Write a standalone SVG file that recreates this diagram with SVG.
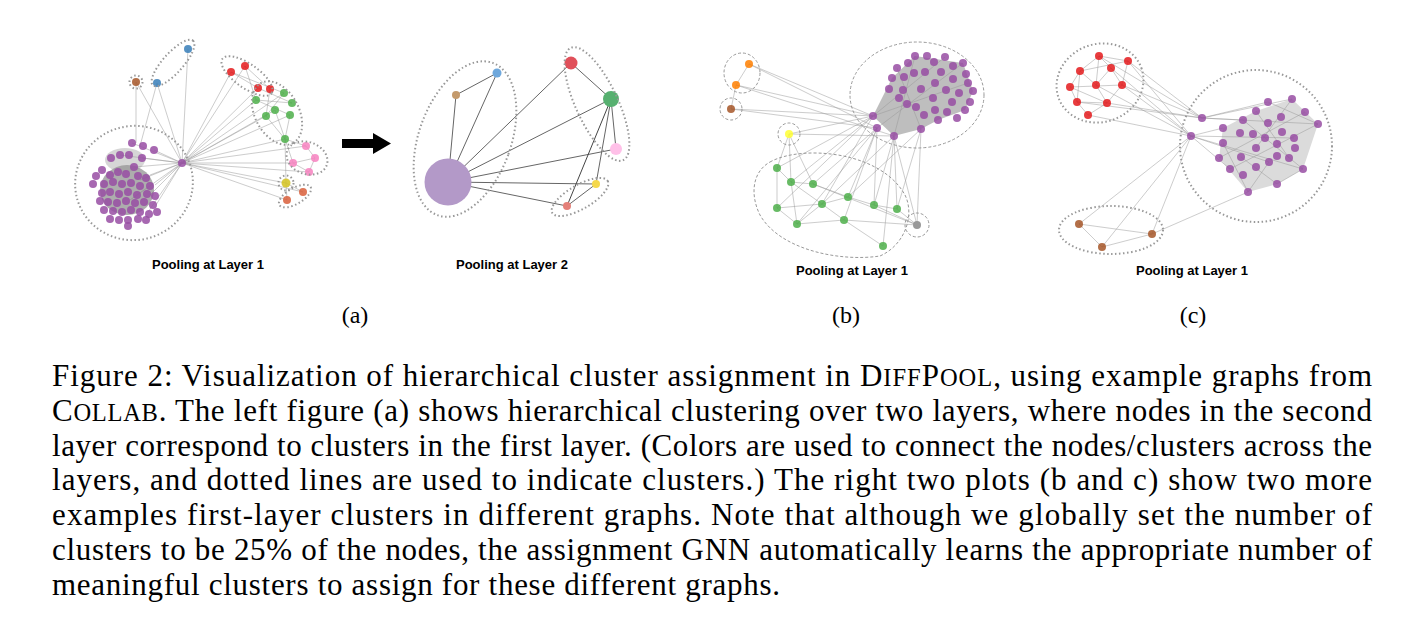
<svg xmlns="http://www.w3.org/2000/svg" width="1426" height="621" viewBox="0 0 1426 621">
<style>
.e line{stroke:#999;stroke-width:0.7;opacity:.7}
.d line{stroke:#666;stroke-width:1}
.cl{fill:none;stroke:#999;stroke-width:2;stroke-dasharray:1.5 2.5}
.cl2{fill:none;stroke:#999;stroke-width:1;stroke-dasharray:3 2}
.p{fill:#984ea3;opacity:.85}.r{fill:#e41a1c;opacity:.85}.g{fill:#4daf4a;opacity:.85}.b{fill:#377eb8;opacity:.85}
.br{fill:#a65628;opacity:.85}.pk{fill:#f781bf;opacity:.85}.y{fill:#d4c21d;opacity:.85}.o{fill:#ff7f00;opacity:.85}
.lab{font-family:"Liberation Sans",Arial,sans-serif;font-weight:bold;font-size:13px;text-anchor:middle}
.sub{font-family:"Liberation Serif","Times New Roman",serif;font-size:24px;text-anchor:middle}
.cap{font-family:"Liberation Serif","Times New Roman",serif;font-size:31px}
</style>
<!-- Panel a, layer 1 -->
<g id="panel-a1">
<g class="e">
<line x1="182" y1="163" x2="136" y2="82"/><line x1="182" y1="163" x2="157" y2="83"/><line x1="182" y1="163" x2="188" y2="49"/>
<line x1="182" y1="163" x2="231" y2="72"/><line x1="182" y1="163" x2="245" y2="66"/><line x1="182" y1="163" x2="256" y2="100"/>
<line x1="182" y1="163" x2="266" y2="116"/><line x1="182" y1="163" x2="275" y2="110"/><line x1="182" y1="163" x2="285" y2="139"/>
<line x1="182" y1="163" x2="306" y2="146"/><line x1="182" y1="163" x2="293" y2="163"/><line x1="182" y1="163" x2="309" y2="172"/>
<line x1="182" y1="163" x2="286" y2="183"/><line x1="182" y1="163" x2="303" y2="192"/><line x1="182" y1="163" x2="287" y2="200"/>
<line x1="182" y1="163" x2="258" y2="88"/><line x1="182" y1="163" x2="290" y2="115"/><line x1="182" y1="163" x2="284" y2="93"/>
<line x1="136" y1="82" x2="136" y2="143"/><line x1="157" y1="83" x2="140" y2="146"/>
<line x1="231" y1="72" x2="258" y2="88"/><line x1="245" y1="66" x2="270" y2="89"/><line x1="231" y1="72" x2="284" y2="93"/><line x1="245" y1="66" x2="256" y2="100"/>
<line x1="258" y1="88" x2="292" y2="103"/><line x1="270" y1="89" x2="266" y2="116"/><line x1="256" y1="100" x2="290" y2="115"/><line x1="284" y1="93" x2="266" y2="116"/>
<line x1="275" y1="110" x2="285" y2="139"/><line x1="266" y1="116" x2="285" y2="139"/><line x1="290" y1="115" x2="285" y2="139"/><line x1="256" y1="100" x2="292" y2="103"/>
<line x1="285" y1="139" x2="306" y2="146"/><line x1="285" y1="139" x2="293" y2="163"/><line x1="306" y1="146" x2="315" y2="158"/><line x1="293" y1="163" x2="309" y2="172"/><line x1="315" y1="158" x2="309" y2="172"/><line x1="293" y1="163" x2="315" y2="158"/>
<line x1="285" y1="139" x2="286" y2="183"/><line x1="286" y1="183" x2="287" y2="200"/><line x1="286" y1="183" x2="303" y2="192"/>
</g>
<g class="e">
<line x1="182" y1="163" x2="132" y2="143"/><line x1="182" y1="163" x2="154" y2="150"/><line x1="182" y1="163" x2="142" y2="158"/><line x1="182" y1="163" x2="134" y2="167"/>
<line x1="182" y1="163" x2="150" y2="175"/><line x1="182" y1="163" x2="155" y2="185"/><line x1="182" y1="163" x2="150" y2="195"/><line x1="182" y1="163" x2="156" y2="205"/>
<line x1="182" y1="163" x2="148" y2="212"/><line x1="182" y1="163" x2="140" y2="180"/><line x1="182" y1="163" x2="120" y2="155"/><line x1="182" y1="163" x2="130" y2="200"/>
</g>
<ellipse cx="127" cy="190" rx="27" ry="25" fill="#777" opacity=".6"/>
<ellipse cx="125" cy="160" rx="20" ry="12" fill="#999" opacity=".4"/>
<g>
<circle class="p" cx="132" cy="143" r="4"/><circle class="p" cx="143" cy="146" r="4"/><circle class="p" cx="154" cy="150" r="4"/><circle class="p" cx="111" cy="158" r="4"/>
<circle class="p" cx="120" cy="155" r="4"/><circle class="p" cx="129" cy="155" r="4"/><circle class="p" cx="142" cy="158" r="4"/><circle class="p" cx="102" cy="170" r="4"/>
<circle class="p" cx="134" cy="167" r="4"/><circle class="p" cx="96" cy="176" r="4"/><circle class="p" cx="93" cy="184" r="4"/>
<circle class="p" cx="110" cy="175" r="4"/><circle class="p" cx="118" cy="172" r="4"/><circle class="p" cx="126" cy="174" r="4"/><circle class="p" cx="138" cy="176" r="4"/><circle class="p" cx="146" cy="178" r="4"/>
<circle class="p" cx="104" cy="184" r="4"/><circle class="p" cx="113" cy="182" r="4"/><circle class="p" cx="122" cy="184" r="4"/><circle class="p" cx="131" cy="183" r="4"/><circle class="p" cx="140" cy="186" r="4"/><circle class="p" cx="150" cy="186" r="4"/>
<circle class="p" cx="102" cy="193" r="4"/><circle class="p" cx="110" cy="192" r="4"/><circle class="p" cx="119" cy="194" r="4"/><circle class="p" cx="128" cy="192" r="4"/><circle class="p" cx="137" cy="195" r="4"/><circle class="p" cx="147" cy="194" r="4"/><circle class="p" cx="155" cy="196" r="4"/>
<circle class="p" cx="100" cy="201" r="4"/><circle class="p" cx="108" cy="202" r="4"/><circle class="p" cx="117" cy="203" r="4"/><circle class="p" cx="126" cy="201" r="4"/><circle class="p" cx="135" cy="203" r="4"/><circle class="p" cx="144" cy="202" r="4"/><circle class="p" cx="153" cy="205" r="4"/><circle class="p" cx="157" cy="212" r="4"/>
<circle class="p" cx="104" cy="210" r="4"/><circle class="p" cx="113" cy="211" r="4"/><circle class="p" cx="122" cy="212" r="4"/><circle class="p" cx="131" cy="210" r="4"/><circle class="p" cx="140" cy="212" r="4"/><circle class="p" cx="149" cy="214" r="4"/>
<circle class="p" cx="110" cy="219" r="4"/><circle class="p" cx="119" cy="220" r="4"/><circle class="p" cx="128" cy="220" r="4"/><circle class="p" cx="138" cy="219" r="4"/><circle class="p" cx="146" cy="220" r="4"/><circle class="p" cx="128" cy="226" r="4"/>
<circle class="p" cx="182" cy="163" r="4"/>
<circle class="br" cx="136" cy="82" r="4"/><circle class="b" cx="157" cy="83" r="4"/><circle class="b" cx="188" cy="49" r="4"/>
<circle class="r" cx="231" cy="72" r="4"/><circle class="r" cx="245" cy="66" r="4"/><circle class="r" cx="258" cy="88" r="4"/><circle class="r" cx="270" cy="89" r="4"/>
<circle class="g" cx="284" cy="93" r="4"/><circle class="g" cx="292" cy="103" r="4"/><circle class="g" cx="256" cy="100" r="4"/><circle class="g" cx="275" cy="110" r="4"/><circle class="g" cx="266" cy="116" r="4"/><circle class="g" cx="290" cy="115" r="4"/><circle class="g" cx="285" cy="139" r="4"/>
<circle class="pk" cx="306" cy="146" r="4"/><circle class="pk" cx="315" cy="158" r="4"/><circle class="pk" cx="293" cy="163" r="4"/><circle class="pk" cx="309" cy="172" r="4"/>
<circle class="y" cx="286" cy="183" r="4.5"/><circle fill="#d95f3b" opacity=".85" cx="303" cy="192" r="4"/><circle fill="#d95f3b" opacity=".85" cx="287" cy="200" r="4"/>
</g>
<ellipse class="cl" cx="134" cy="183" rx="59" ry="57" transform="rotate(-15 134 183)"/>
<ellipse class="cl" cx="173" cy="63" rx="30" ry="10" transform="rotate(-48 173 63)"/>
<circle class="cl" cx="136" cy="82" r="6.5"/>
<ellipse class="cl" cx="247" cy="76" rx="30" ry="12" transform="rotate(35 247 76)"/>
<ellipse class="cl" cx="277" cy="113" rx="34" ry="22" transform="rotate(62 277 113)"/>
<ellipse class="cl" cx="307" cy="158" rx="21" ry="16" transform="rotate(20 307 158)"/>
<circle class="cl" cx="286" cy="183" r="7.5"/>
<ellipse class="cl" cx="295" cy="196" rx="18" ry="8" transform="rotate(-30 295 196)"/>
</g>
<g id="arrow"><rect x="342" y="139" width="33" height="9" fill="#000"/><polygon points="373,133 391,143.5 373,154" fill="#000"/></g>
<!-- Panel a, layer 2 -->
<g id="panel-a2">
<g class="d">
<line x1="448" y1="182" x2="456" y2="95"/><line x1="448" y1="182" x2="497" y2="73"/><line x1="456" y1="95" x2="497" y2="73"/>
<line x1="448" y1="182" x2="571" y2="63"/><line x1="448" y1="182" x2="611" y2="99"/><line x1="448" y1="182" x2="616" y2="149"/>
<line x1="448" y1="182" x2="596" y2="184"/><line x1="448" y1="182" x2="567" y2="206"/><line x1="571" y1="63" x2="611" y2="99"/>
<line x1="611" y1="99" x2="616" y2="149"/><line x1="611" y1="99" x2="596" y2="184"/><line x1="611" y1="99" x2="567" y2="206" style="stroke:#444"/><line x1="567" y1="206" x2="596" y2="184"/>
</g>
<circle cx="448" cy="182" r="23.5" fill="#b399c8"/>
<circle cx="456" cy="95" r="4" fill="#c49a6c"/><circle cx="497" cy="73" r="4.5" fill="#6fa8dc"/>
<circle cx="571" cy="63" r="6.5" fill="#e0505a"/><circle cx="611" cy="99" r="8" fill="#57b070"/>
<circle cx="616" cy="149" r="6" fill="#ffc0e8"/><circle cx="596" cy="184" r="4" fill="#f5d84c"/><circle cx="567" cy="206" r="4" fill="#e48079"/>
<ellipse class="cl" cx="465" cy="139" rx="46" ry="81" transform="rotate(20 465 139)"/>
<ellipse class="cl" cx="597" cy="104" rx="21" ry="62" transform="rotate(-25 597 104)"/>
<ellipse class="cl" cx="580" cy="197" rx="32" ry="12" transform="rotate(-30 580 197)"/>
</g>
<!-- Panel b -->
<g id="panel-b">
<g class="e">
<line x1="749" y1="64" x2="736" y2="85"/><line x1="736" y1="85" x2="731" y2="109"/>
<line x1="749" y1="64" x2="873" y2="116"/><line x1="749" y1="64" x2="877" y2="128"/><line x1="736" y1="85" x2="873" y2="116"/><line x1="736" y1="85" x2="894" y2="136"/>
<line x1="731" y1="109" x2="873" y2="116"/><line x1="731" y1="109" x2="877" y2="128"/><line x1="789" y1="134" x2="873" y2="116"/><line x1="789" y1="134" x2="894" y2="136"/>
<line x1="789" y1="134" x2="777" y2="168"/><line x1="789" y1="134" x2="813" y2="184"/><line x1="789" y1="134" x2="791" y2="182"/>
<line x1="873" y1="116" x2="777" y2="168"/><line x1="873" y1="116" x2="791" y2="182"/><line x1="873" y1="116" x2="822" y2="204"/><line x1="873" y1="116" x2="777" y2="208"/>
<line x1="877" y1="128" x2="813" y2="184"/><line x1="877" y1="128" x2="848" y2="197"/><line x1="877" y1="128" x2="844" y2="220"/><line x1="877" y1="128" x2="874" y2="205"/><line x1="877" y1="128" x2="797" y2="224"/>
<line x1="894" y1="136" x2="874" y2="205"/><line x1="894" y1="136" x2="897" y2="209"/><line x1="894" y1="136" x2="883" y2="246"/><line x1="894" y1="136" x2="917" y2="225"/><line x1="894" y1="136" x2="822" y2="204"/>
<line x1="921" y1="129" x2="917" y2="225"/><line x1="921" y1="129" x2="897" y2="209"/><line x1="921" y1="129" x2="848" y2="197"/>
<line x1="777" y1="168" x2="791" y2="182"/><line x1="791" y1="182" x2="813" y2="184"/><line x1="777" y1="168" x2="777" y2="208"/><line x1="777" y1="208" x2="797" y2="224"/><line x1="791" y1="182" x2="822" y2="204"/>
<line x1="813" y1="184" x2="848" y2="197"/><line x1="822" y1="204" x2="848" y2="197"/><line x1="822" y1="204" x2="844" y2="220"/><line x1="797" y1="224" x2="844" y2="220"/><line x1="777" y1="208" x2="822" y2="204"/>
<line x1="848" y1="197" x2="874" y2="205"/><line x1="874" y1="205" x2="897" y2="209"/><line x1="844" y1="220" x2="883" y2="246"/><line x1="874" y1="205" x2="917" y2="225"/><line x1="813" y1="184" x2="917" y2="225"/>
<line x1="897" y1="209" x2="917" y2="225"/><line x1="844" y1="220" x2="917" y2="225"/><line x1="797" y1="224" x2="822" y2="204"/><line x1="791" y1="182" x2="797" y2="224"/>
</g>
<polygon points="873,116 892,78 915,56 963,63 973,91 965,110 938,120 921,129 894,136" fill="#888" opacity=".55"/>
<g class="e">
<line x1="873" y1="116" x2="945" y2="57"/><line x1="873" y1="116" x2="968" y2="83"/><line x1="877" y1="128" x2="963" y2="63"/><line x1="894" y1="136" x2="915" y2="56"/><line x1="921" y1="129" x2="897" y2="68"/>
</g>
<g>
<circle class="p" cx="915" cy="56" r="4"/><circle class="p" cx="927" cy="56" r="4"/><circle class="p" cx="945" cy="57" r="4"/><circle class="p" cx="897" cy="68" r="4"/><circle class="p" cx="908" cy="63" r="4"/>
<circle class="p" cx="934" cy="62" r="4"/><circle class="p" cx="953" cy="66" r="4"/><circle class="p" cx="963" cy="63" r="4"/><circle class="p" cx="892" cy="78" r="4"/><circle class="p" cx="904" cy="77" r="4"/>
<circle class="p" cx="914" cy="73" r="4"/><circle class="p" cx="925" cy="72" r="4"/><circle class="p" cx="941" cy="72" r="4"/><circle class="p" cx="953" cy="79" r="4"/><circle class="p" cx="966" cy="74" r="4"/>
<circle class="p" cx="968" cy="83" r="4"/><circle class="p" cx="889" cy="89" r="4"/><circle class="p" cx="903" cy="90" r="4"/><circle class="p" cx="921" cy="89" r="4"/><circle class="p" cx="935" cy="83" r="4"/>
<circle class="p" cx="946" cy="90" r="4"/><circle class="p" cx="959" cy="93" r="4"/><circle class="p" cx="973" cy="91" r="4"/><circle class="p" cx="899" cy="98" r="4"/><circle class="p" cx="933" cy="98" r="4"/>
<circle class="p" cx="952" cy="102" r="4"/><circle class="p" cx="970" cy="102" r="4"/><circle class="p" cx="907" cy="104" r="4"/><circle class="p" cx="916" cy="107" r="4"/><circle class="p" cx="935" cy="110" r="4"/>
<circle class="p" cx="947" cy="112" r="4"/><circle class="p" cx="965" cy="110" r="4"/><circle class="p" cx="924" cy="115" r="4"/><circle class="p" cx="938" cy="120" r="4"/><circle class="p" cx="957" cy="118" r="4"/>
<circle class="p" cx="873" cy="116" r="4"/><circle class="p" cx="877" cy="128" r="4"/><circle class="p" cx="894" cy="136" r="4"/><circle class="p" cx="921" cy="129" r="4"/>
<circle class="o" cx="749" cy="64" r="4"/><circle class="o" cx="736" cy="85" r="4"/><circle class="br" cx="731" cy="109" r="4"/>
<circle fill="#ffff33" opacity=".85" cx="789" cy="134" r="4"/><circle fill="#999" cx="917" cy="225" r="4"/>
<circle class="g" cx="777" cy="168" r="4"/><circle class="g" cx="791" cy="182" r="4"/><circle class="g" cx="813" cy="184" r="4"/><circle class="g" cx="848" cy="197" r="4"/>
<circle class="g" cx="822" cy="204" r="4"/><circle class="g" cx="777" cy="208" r="4"/><circle class="g" cx="874" cy="205" r="4"/><circle class="g" cx="897" cy="209" r="4"/>
<circle class="g" cx="797" cy="224" r="4"/><circle class="g" cx="844" cy="220" r="4"/><circle class="g" cx="883" cy="246" r="4"/>
</g>
<ellipse class="cl2" cx="917" cy="95" rx="67" ry="53"/>
<ellipse class="cl2" cx="742" cy="73" rx="18" ry="20"/>
<circle class="cl2" cx="731" cy="109" r="11"/>
<circle class="cl2" cx="789" cy="134" r="11"/>
<circle class="cl2" cx="917" cy="225" r="12"/>
<path class="cl2" d="M 770 162 C 800 145, 880 150, 905 195 C 915 215, 905 245, 880 256 C 840 262, 780 250, 760 215 C 750 195, 752 172, 770 162 Z"/>
</g>
<!-- Panel c -->
<g id="panel-c">
<g class="e">
<line x1="1099" y1="56" x2="1128" y2="61"/><line x1="1099" y1="56" x2="1080" y2="71"/><line x1="1099" y1="56" x2="1111" y2="68"/><line x1="1080" y1="71" x2="1070" y2="87"/><line x1="1080" y1="71" x2="1096" y2="85"/>
<line x1="1111" y1="68" x2="1122" y2="85"/><line x1="1111" y1="68" x2="1096" y2="85"/><line x1="1070" y1="87" x2="1077" y2="102"/><line x1="1096" y1="85" x2="1107" y2="103"/><line x1="1122" y1="85" x2="1107" y2="103"/>
<line x1="1077" y1="102" x2="1088" y2="115"/><line x1="1107" y1="103" x2="1088" y2="115"/><line x1="1070" y1="87" x2="1122" y2="85"/><line x1="1080" y1="71" x2="1128" y2="61"/><line x1="1077" y1="102" x2="1107" y2="103"/>
<line x1="1099" y1="56" x2="1096" y2="85"/><line x1="1128" y1="61" x2="1122" y2="85"/><line x1="1070" y1="87" x2="1107" y2="103"/><line x1="1080" y1="71" x2="1077" y2="102"/>
<line x1="1128" y1="61" x2="1202" y2="118"/><line x1="1122" y1="85" x2="1202" y2="118"/><line x1="1107" y1="103" x2="1202" y2="118"/><line x1="1088" y1="115" x2="1191" y2="136"/><line x1="1111" y1="68" x2="1191" y2="136"/>
<line x1="1096" y1="85" x2="1191" y2="136"/><line x1="1128" y1="61" x2="1191" y2="136"/><line x1="1122" y1="85" x2="1191" y2="136"/><line x1="1099" y1="56" x2="1202" y2="118"/><line x1="1077" y1="102" x2="1202" y2="118"/>
<line x1="1191" y1="136" x2="1079" y2="224"/><line x1="1191" y1="136" x2="1102" y2="247"/><line x1="1191" y1="136" x2="1152" y2="234"/><line x1="1248" y1="192" x2="1152" y2="234"/>
<line x1="1079" y1="224" x2="1102" y2="247"/><line x1="1079" y1="224" x2="1152" y2="234"/><line x1="1102" y1="247" x2="1152" y2="234"/>
<line x1="1202" y1="118" x2="1268" y2="102"/><line x1="1202" y1="118" x2="1292" y2="99"/><line x1="1202" y1="118" x2="1318" y2="124"/><line x1="1191" y1="136" x2="1223" y2="128"/><line x1="1191" y1="136" x2="1269" y2="162"/>
<line x1="1191" y1="136" x2="1303" y2="169"/><line x1="1191" y1="136" x2="1230" y2="169"/><line x1="1202" y1="118" x2="1243" y2="120"/><line x1="1191" y1="136" x2="1294" y2="138"/>
<line x1="1248" y1="192" x2="1223" y2="143"/><line x1="1248" y1="192" x2="1269" y2="162"/><line x1="1277" y1="184" x2="1241" y2="157"/><line x1="1277" y1="184" x2="1303" y2="169"/><line x1="1292" y1="99" x2="1256" y2="148"/>
<line x1="1268" y1="102" x2="1318" y2="124"/><line x1="1305" y1="112" x2="1219" y2="158"/><line x1="1318" y1="124" x2="1230" y2="169"/><line x1="1243" y1="120" x2="1303" y2="169"/><line x1="1256" y1="111" x2="1289" y2="158"/>
</g>
<polygon points="1223,128 1256,111 1292,99 1318,124 1303,169 1277,184 1248,192 1219,158" fill="#999" opacity=".35"/>
<g>
<circle class="r" cx="1099" cy="56" r="4"/><circle class="r" cx="1128" cy="61" r="4"/><circle class="r" cx="1080" cy="71" r="4"/><circle class="r" cx="1111" cy="68" r="4"/><circle class="r" cx="1070" cy="87" r="4"/>
<circle class="r" cx="1096" cy="85" r="4"/><circle class="r" cx="1122" cy="85" r="4"/><circle class="r" cx="1077" cy="102" r="4"/><circle class="r" cx="1107" cy="103" r="4"/><circle class="r" cx="1088" cy="115" r="4"/>
<circle class="p" cx="1202" cy="118" r="4"/><circle class="p" cx="1191" cy="136" r="4"/>
<circle class="p" cx="1268" cy="102" r="4"/><circle class="p" cx="1292" cy="99" r="4"/><circle class="p" cx="1256" cy="111" r="4"/><circle class="p" cx="1243" cy="120" r="4"/><circle class="p" cx="1268" cy="123" r="4"/>
<circle class="p" cx="1281" cy="117" r="4"/><circle class="p" cx="1305" cy="112" r="4"/><circle class="p" cx="1318" cy="124" r="4"/><circle class="p" cx="1223" cy="128" r="4"/><circle class="p" cx="1240" cy="133" r="4"/>
<circle class="p" cx="1253" cy="134" r="4"/><circle class="p" cx="1282" cy="132" r="4"/><circle class="p" cx="1265" cy="138" r="4"/><circle class="p" cx="1294" cy="138" r="4"/><circle class="p" cx="1223" cy="143" r="4"/>
<circle class="p" cx="1256" cy="148" r="4"/><circle class="p" cx="1277" cy="144" r="4"/><circle class="p" cx="1295" cy="148" r="4"/><circle class="p" cx="1219" cy="158" r="4"/><circle class="p" cx="1241" cy="157" r="4"/>
<circle class="p" cx="1269" cy="162" r="4"/><circle class="p" cx="1277" cy="156" r="4"/><circle class="p" cx="1289" cy="158" r="4"/><circle class="p" cx="1230" cy="169" r="4"/><circle class="p" cx="1243" cy="175" r="4"/>
<circle class="p" cx="1256" cy="167" r="4"/><circle class="p" cx="1303" cy="169" r="4"/><circle class="p" cx="1277" cy="184" r="4"/><circle class="p" cx="1248" cy="192" r="4"/>
<circle class="br" cx="1079" cy="224" r="4"/><circle class="br" cx="1102" cy="247" r="4"/><circle class="br" cx="1152" cy="234" r="4"/>
</g>
<ellipse class="cl" cx="1100" cy="83" rx="44" ry="39" transform="rotate(-20 1100 83)"/>
<circle class="cl" cx="1256" cy="146" r="76"/>
<ellipse class="cl" cx="1111" cy="230" rx="52" ry="24"/>
</g>
<!-- Labels -->
<g id="labels">
<text class="lab" x="208" y="269">Pooling at Layer 1</text>
<text class="lab" x="512" y="269">Pooling at Layer 2</text>
<text class="lab" x="852" y="275">Pooling at Layer 1</text>
<text class="lab" x="1192" y="275">Pooling at Layer 1</text>
<text class="sub" x="355" y="323">(a)</text>
<text class="sub" x="846" y="323">(b)</text>
<text class="sub" x="1193" y="323">(c)</text>
</g>
<g id="caption" class="cap">
<text x="52" y="386" textLength="1320" lengthAdjust="spacing">Figure 2: Visualization of hierarchical cluster assignment in D<tspan font-size="24.5">IFF</tspan>P<tspan font-size="24.5">OOL</tspan>, using example graphs from</text>
<text x="52" y="421" textLength="1320" lengthAdjust="spacing">C<tspan font-size="24.5">OLLAB</tspan>. The left figure (a) shows hierarchical clustering over two layers, where nodes in the second</text>
<text x="52" y="456" textLength="1320" lengthAdjust="spacing">layer correspond to clusters in the first layer. (Colors are used to connect the nodes/clusters across the</text>
<text x="52" y="490" textLength="1320" lengthAdjust="spacing">layers, and dotted lines are used to indicate clusters.) The right two plots (b and c) show two more</text>
<text x="52" y="525" textLength="1320" lengthAdjust="spacing">examples first-layer clusters in different graphs. Note that although we globally set the number of</text>
<text x="52" y="560" textLength="1320" lengthAdjust="spacing">clusters to be 25% of the nodes, the assignment GNN automatically learns the appropriate number of</text>
<text x="52" y="595" textLength="728" lengthAdjust="spacing">meaningful clusters to assign for these different graphs.</text>
</g>
</svg>
